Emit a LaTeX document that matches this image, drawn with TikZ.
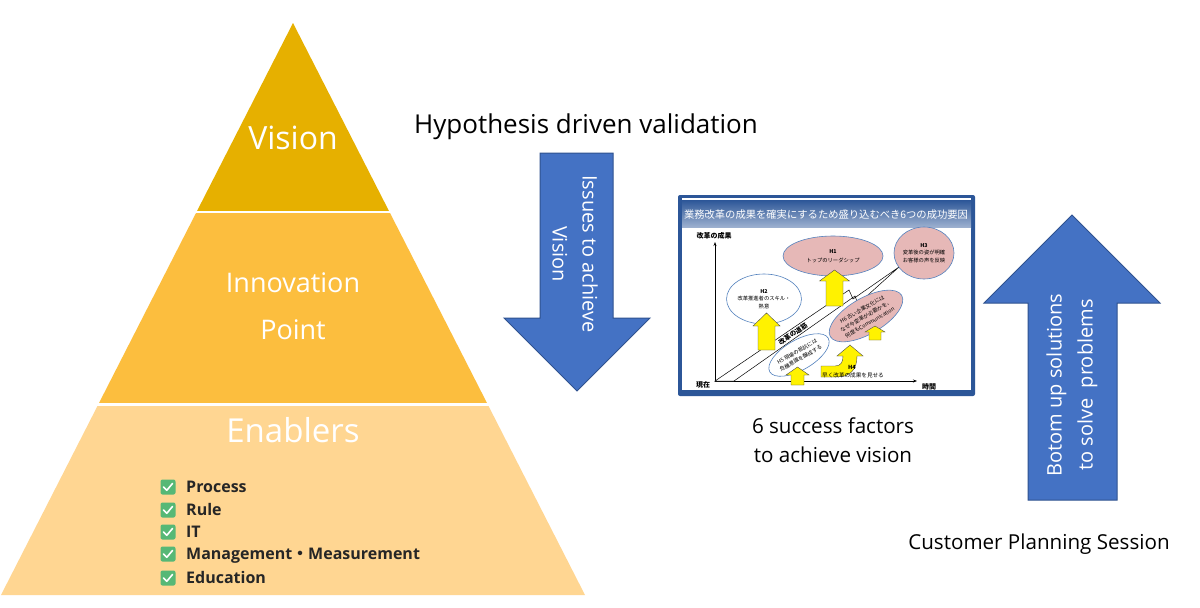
\documentclass[tikz,border=0pt]{standalone}
\usepackage{fontspec}
\setmainfont{Open Sans}
\newfontfamily\jp{Noto Sans CJK JP}
\usetikzlibrary{arrows.meta,shapes.geometric}

\definecolor{visionfill}{RGB}{230,176,0}
\definecolor{innofill}{RGB}{252,190,62}
\definecolor{enabfill}{RGB}{255,214,146}
\definecolor{arrowblue}{RGB}{68,114,196}
\definecolor{arrowedge}{RGB}{47,82,143}
\definecolor{slideblue}{RGB}{44,86,152}
\definecolor{tickgreen}{RGB}{86,184,118}
\definecolor{hpink}{RGB}{230,184,183}
\definecolor{hedge}{RGB}{84,130,190}

\tikzset{
  bigarrow/.style={fill=arrowblue, draw=arrowedge, line width=1pt},
  hypo/.style={ellipse, draw=hedge, line width=0.6pt, inner sep=0pt, align=center,
    font=\jp\fontsize{5.3}{7.5}\selectfont},
  yarrow/.style={fill=yellow, draw=black!70, line width=0.4pt},
  tinyjp/.style={font=\jp\fontsize{5.6}{7}\selectfont, inner sep=0pt},
}

\begin{document}
\begin{tikzpicture}[x=1pt,y=-1pt,>=Stealth]
    \fill[white] (0,0) rectangle (1200,608);
    \useasboundingbox (0,0) rectangle (1200,608);

    % pyramid
    \coordinate (apex) at (293,23);
    \coordinate (baseL) at (1,595);
    \coordinate (baseR) at (585,595);
    \begin{scope}
        \clip (apex) -- (baseL) -- (baseR) -- cycle;
        \fill[visionfill] (0,0) rectangle (600,211);
        \fill[innofill] (0,213) rectangle (600,403);
        \fill[enabfill] (0,406) rectangle (600,600);
    \end{scope}
    \node[white, font=\fontsize{32}{38}\selectfont] (vision) at (293,138) {Vision};
    \node[white, font=\fontsize{27}{47}\selectfont, align=center] (inno) at (293,306) {Innovation\\Point};
    \node[white, font=\fontsize{33}{40}\selectfont] (enablers) at (293,430) {Enablers};

    % check list
    \foreach \y/\item in {487/Process, 510/Rule, 532/IT, 554/{Management{\jp ・}Measurement}, 578/Education}{
        \fill[tickgreen, rounded corners=2pt] (160.5,\y-7.5) rectangle (175.5,\y+7.5);
        \draw[white, line width=1.6pt, line cap=round, line join=round]
            (163.5,\y) -- (166.8,\y+3.3) -- (172.5,\y-3.5);
        \node[anchor=base west, inner sep=0pt, text=black!85,
              font=\bfseries\fontsize{16}{19}\selectfont] (chk\y) at (186,\y+5.6) {\item};
    }

    % top-down arrow
    \node[font=\fontsize{26}{31}\selectfont] (hypo) at (586,127) {Hypothesis driven validation};
    \draw[bigarrow] (540,153) -- (613,153) -- (613,318) -- (650,318) -- (577,391)
        -- (504,318) -- (540,318) -- cycle;
    \node[white, rotate=-90, align=center, font=\fontsize{20}{30}\selectfont] (issues) at (575,254)
        {Issues to achieve\\Vision};

    % bottom-up arrow
    \draw[bigarrow] (1028,500) -- (1028,303) -- (984,303) -- (1072,215) -- (1160,303)
        -- (1117,303) -- (1117,500) -- cycle;
    \node[white, rotate=90, align=center, font=\fontsize{20}{31}\selectfont] (botom) at (1072,385)
        {Botom up solutions\\to solve\ \ problems};

    \node[align=center, font=\fontsize{20.6}{29}\selectfont] (factors) at (833,440)
        {6 success factors\\to achieve vision};
    \node[font=\fontsize{20.6}{25}\selectfont] (session) at (1039,544) {Customer Planning Session};

    % slide with the 6 factors
    \fill[slideblue, rounded corners=2pt] (678,195) rectangle (975,396);
    \fill[white] (682,198) rectangle (971,200);
    \shade[top color=slideblue, bottom color=slideblue!45!white] (682,200) rectangle (971,228);
    \fill[white] (682,228) rectangle (971,390);
    \node[white, font=\jp\fontsize{10.3}{12}\selectfont] (title) at (826,215)
        {業務改革の成果を確実にするため盛り込むべき6つの成功要因};

    \coordinate (org) at (715,381);
    \coordinate (ytop) at (715,242);
    \coordinate (xend) at (917,381);
    \draw[-{Stealth[length=4pt,width=3pt]}, line width=0.8pt] (org) -- (ytop);
    \draw[-{Stealth[length=4pt,width=3pt]}, line width=0.8pt] (org) -- (xend);
    \node[tinyjp, font=\jp\bfseries\fontsize{7}{8}\selectfont] (ylab) at (714,236) {改革の成果};
    \node[tinyjp, font=\jp\bfseries\fontsize{7}{8}\selectfont] (xlab) at (929,387) {時間};
    \node[tinyjp, font=\jp\bfseries\fontsize{7}{8}\selectfont] (now) at (703,385) {現在};

    % road to the target
    \filldraw[fill=white, draw=black, line width=0.5pt] (org) -- (849,290) -- (853,299) -- (899,267)
        -- (858,304) -- (855,296) -- (734,381) -- cycle;
    \node[tinyjp, rotate=34, font=\jp\bfseries\fontsize{6.6}{8}\selectfont] (road) at (793,334) {改革の道筋};

    % hypotheses
    \node[hypo, fill=hpink, minimum width=100pt, minimum height=40pt] (h1) at (833,256)
        {\bfseries H1\\[2pt]トップのリーダシップ};
    \node[hypo, fill=hpink, minimum width=60pt, minimum height=52pt] (h3) at (924,253)
        {\bfseries H3\\変革後の姿が明確\\お客様の声を反映};
    \node[hypo, fill=white, minimum width=72pt, minimum height=50pt] (h2) at (764,299)
        {\bfseries H2\\改革推進者のスキル・\\熱意};
    \node[hypo, fill=hpink, minimum width=62pt, minimum height=36pt, rotate=30] (h6) at (866,316)
        {H6 古い企業文化には\\なぜ今変革が必要かを、\\何度もCommunication};
    \node[hypo, fill=white, minimum width=60pt, minimum height=30pt, rotate=30] (h5) at (799,355)
        {H5 現場の抵抗には\\危機意識を醸成する};

    \foreach \cx/\yb/\yh/\yt/\s/\h in {834.5/306/281/270/8.5/15, 766.5/350/326/313/8.5/13.5,
                                       797.5/385/375/367/6.5/11.5, 875/340/332/326/6/10}{
        \filldraw[yarrow] (\cx-\s,\yb) -- (\cx-\s,\yh) -- (\cx-\h,\yh) -- (\cx,\yt)
            -- (\cx+\h,\yh) -- (\cx+\s,\yh) -- (\cx+\s,\yb) -- cycle;
    }
    \filldraw[yarrow] (821,366) -- (835,366) .. controls (841,366) and (843,362) .. (843,356)
        -- (837,356) -- (850,345) -- (863,356) -- (857,356)
        .. controls (857,370) and (850,377) .. (836,377) -- (821,377) -- cycle;
    \node[tinyjp, font=\jp\bfseries\fontsize{5.6}{7}\selectfont] (h4) at (852,367) {H4};
    \node[tinyjp] (h4txt) at (853,375) {早く改革の成果を見せる};
\end{tikzpicture}
\end{document}
